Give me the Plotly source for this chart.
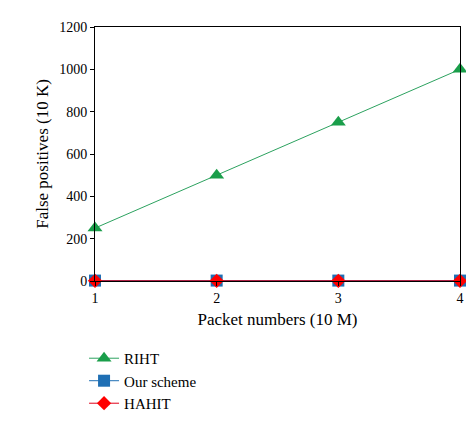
import plotly.graph_objects as go

packets = [1, 2, 3, 4]
riht = [250, 500, 750, 1000]
our_scheme = [2, 2, 2, 2]
hahit = [1, 1, 1, 1]

fig = go.Figure()
fig.add_trace(go.Scatter(x=packets, y=riht, name='RIHT', mode='lines+markers',
                         line=dict(color='#2ca25f', width=1),
                         marker=dict(symbol='triangle-up', size=13, color='#1a9e4a'),
                         cliponaxis=False))
fig.add_trace(go.Scatter(x=packets, y=our_scheme, name='Our scheme', mode='lines+markers',
                         line=dict(color='#1f6fb4', width=1),
                         marker=dict(symbol='square', size=12, color='#1f6fb4'),
                         cliponaxis=False))
fig.add_trace(go.Scatter(x=packets, y=hahit, name='HAHIT', mode='lines+markers',
                         line=dict(color='#e0001a', width=1),
                         marker=dict(symbol='diamond', size=11, color='#ff0000'),
                         cliponaxis=False))

axis_style = dict(showline=True, linecolor='black', linewidth=1, mirror=True,
                  showgrid=False, zeroline=False, ticks='outside', ticklen=4,
                  tickcolor='black', tickfont=dict(size=14, color='black'))

fig.update_layout(
    width=474, height=424,
    margin=dict(l=87, r=22, t=12, b=138),
    plot_bgcolor='white', paper_bgcolor='white',
    font=dict(family='Liberation Serif', size=14, color='black'),
    xaxis=dict(title=dict(text='Packet numbers (10 M)', standoff=8),
               range=[1, 4], tickvals=packets, **axis_style),
    yaxis=dict(title=dict(text='False positives (10 K)', standoff=6),
               range=[0, 1200], dtick=200, **axis_style),
    legend=dict(x=-0.03, y=-0.24, xanchor='left', yanchor='top',
                font=dict(size=15), tracegroupgap=0, itemwidth=30,
                bgcolor='rgba(0,0,0,0)'),
)

fig.write_html("out.html")
